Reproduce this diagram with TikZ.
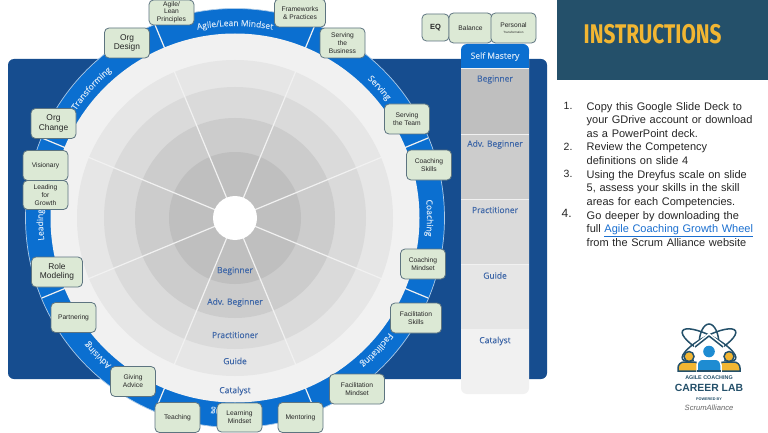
\documentclass[tikz,border=0pt]{standalone}
\usepackage{fontspec}
\setmainfont{Liberation Sans}
\newfontfamily\opensans[FakeBold=0.35]{Open Sans}
\newfontfamily\fira{Fira Sans}
\usetikzlibrary{decorations.text,calc}
\definecolor{navy}{HTML}{164D8F}
\definecolor{wheelblue}{HTML}{0B6FD0}
\definecolor{ringa}{HTML}{F1F1F1}
\definecolor{ringb}{HTML}{E6E6E6}
\definecolor{ringc}{HTML}{DADADA}
\definecolor{ringd}{HTML}{CCCCCC}
\definecolor{ringe}{HTML}{BFBFBF}
\definecolor{leaf}{HTML}{DCE9D5}
\definecolor{leafedge}{HTML}{5D7480}
\definecolor{lvl}{HTML}{4068A8}
\definecolor{arcink}{HTML}{CFE3F7}
\definecolor{teal}{HTML}{24506A}
\definecolor{gold}{HTML}{F2B632}
\definecolor{linkblue}{HTML}{1A6FD0}
\definecolor{logoblue}{HTML}{1E8CD2}
\tikzset{
  x=1pt,y=1pt,
  card/.style={draw=leafedge,line width=0.8pt,fill=leaf,rounded corners=4.5pt,minimum width=45pt,minimum height=30pt,align=center,inner sep=0pt,text=black!85,font=\fontsize{6.7}{8}\selectfont},
  cardbig/.style={card,font=\fontsize{8.4}{9.6}\selectfont},
  level/.style={text=lvl,font=\opensans\fontsize{8.5}{10}\selectfont},
  spoke/.style={draw=ringa,line width=1.2pt},
  stepitem/.style={anchor=north west,align=left,inner sep=0pt,text=black!85,font=\fontsize{11}{13.55}\selectfont,text width=178pt},
  stepnum/.style={anchor=north west,inner sep=0pt,text=black!85,font=\fontsize{10.5}{13.55}\selectfont},
  arctext/.style={postaction={decorate,decoration={text along path,text align=center,text={|\opensans\fontsize{8.5}{10}\selectfont\color{arcink}|#1}}}},
  logoline/.style={teal,line width=1.5pt}
}
\begin{document}
\begin{tikzpicture}
\useasboundingbox (0,0) rectangle (768,-433);
\fill[white] (0,0) rectangle (768,-433);
% navy panel
\fill[navy,rounded corners=6pt] (8,-59) rectangle (547,-379);
% wheel
\coordinate (c) at (235,-218);
\fill[wheelblue] (c) circle (209.5);
\draw[ringa!70!wheelblue,line width=0.7pt] (c) circle (209.5);
\fill[ringa] (c) circle (184.5);
\fill[ringb] (c) circle (158);
\fill[ringc] (c) circle (131);
\fill[ringd] (c) circle (100);
\fill[ringe] (c) circle (66);
% spokes
\foreach \a in {22.5,67.5,...,337.5}{
  \draw[spoke] ($(c)+(\a:21)$) -- ($(c)+(\a:209)$);
}
\fill[white] (c) circle (22);
% curved labels
\path[arctext={Agile/Lean Mindset}] ($(c)+(115:192)$) arc[start angle=115,end angle=65,radius=192];
\path[arctext={Serving}] ($(c)+(62:192)$) arc[start angle=62,end angle=22,radius=192];
\path[arctext={Coaching}] ($(c)+(20:192)$) arc[start angle=20,end angle=-20,radius=192];
\path[arctext={Facilitating}] ($(c)+(-23:192)$) arc[start angle=-23,end angle=-63,radius=192];
\path[arctext={Mentoring}] ($(c)+(-71:192)$) arc[start angle=-71,end angle=-111,radius=192];
\path[arctext={Advising}] ($(c)+(-115:192)$) arc[start angle=-115,end angle=-155,radius=192];
\path[arctext={Leading}] ($(c)+(202:192)$) arc[start angle=202,end angle=162,radius=192];
\path[arctext={Transforming}] ($(c)+(158:192)$) arc[start angle=158,end angle=118,radius=192];
% level labels
\node[level] (l1) at (235,-271) {Beginner};
\node[level] (l2) at (235,-302.5) {Adv. Beginner};
\node[level] (l3) at (235,-335) {Practitioner};
\node[level] (l4) at (235,-361) {Guide};
\node[level] (l5) at (235,-391) {Catalyst};
% self mastery column
\fill[ringa,rounded corners=6pt] (461,-50) rectangle (529,-394);
\fill[ringb] (461,-265) rectangle (529,-329);
\fill[ringc] (461,-199.5) rectangle (529,-264);
\fill[ringd] (461,-135) rectangle (529,-199);
\fill[ringe] (461,-69.5) rectangle (529,-134);
\fill[wheelblue,rounded corners=6pt] (461,-44) rectangle (529,-60);
\fill[wheelblue] (461,-52) rectangle (529,-68.5);
\node[text=arcink,font=\opensans\fontsize{8.5}{10}\selectfont] (sm) at (495,-56.5) {Self Mastery};
\node[level] (s1) at (495,-79.5) {Beginner};
\node[level] (s2) at (495,-144.5) {Adv. Beginner};
\node[level] (s3) at (495,-210) {Practitioner};
\node[level] (s4) at (495,-275.5) {Guide};
\node[level] (s5) at (495,-341) {Catalyst};
% top cards
\node[card,minimum width=27pt,minimum height=27pt,font=\fontsize{7.5}{9}\selectfont\bfseries] (eq) at (435.5,-27.5) {EQ};
\node[card,minimum width=43pt,minimum height=30pt] (bal) at (470.5,-28) {Balance};
\node[card,minimum width=45pt,minimum height=30pt] (pt) at (513.5,-28) {Personal\\[-2pt]{\fontsize{3}{3.5}\selectfont Transformation}};
% wheel cards
\node[card,minimum height=25pt,font=\fontsize{6.7}{7.5}\selectfont] (alp) at (171.5,-12.5) {Agile/\\Lean\\[0.5pt]Principles};
\node[cardbig] (od) at (127,-43) {Org\\Design};
\node[cardbig] (oc) at (53.5,-123.5) {Org\\Change};
\node[card] (vis) at (45.5,-165.5) {Visionary};
\node[card,minimum height=29pt] (lg) at (45.5,-195) {Leading\\for\\Growth};
\node[cardbig,minimum width=51pt] (rm) at (57,-272) {Role\\Modeling};
\node[card] (pa) at (73.5,-317.5) {Partnering};
\node[card] (ga) at (133,-381.5) {Giving\\Advice};
\node[card] (te) at (177.5,-417.5) {Teaching};
\node[card,minimum height=29pt] (lm) at (239.5,-417.5) {Learning\\Mindset};
\node[card] (me) at (300.5,-417.5) {Mentoring};
\node[card,minimum width=55pt] (fm) at (357,-389) {Facilitation\\Mindset};
\node[card,minimum width=51pt] (fs) at (416,-318) {Facilitation\\Skills};
\node[card] (cm) at (423,-264) {Coaching\\Mindset};
\node[card] (cs) at (429,-165) {Coaching\\Skills};
\node[card] (st) at (407,-119) {Serving\\the Team};
\node[card] (sb) at (342.5,-43) {Serving\\the\\Business};
\node[card,minimum width=51pt,minimum height=28pt] (fp) at (300,-13) {Frameworks\\\& Practices};
% title panel
\fill[teal] (557,0) rectangle (768,-80);
\node[anchor=west,inner sep=0pt,text=gold] (title) at (583.5,-34.5) {\scalebox{0.77}[1]{\fira\fontsize{27}{30}\selectfont\bfseries INSTRUCTIONS}};
% steps
\node[stepnum] (n1) at (563.5,-102) {1.};
\node[stepnum] (n2) at (563.5,-142.5) {2.};
\node[stepnum] (n3) at (563.5,-170) {3.};
\node[stepnum,font=\fontsize{12}{13.5}\selectfont] (n4) at (561.5,-209.5) {4.};
\node[stepitem] (t1) at (586.5,-102) {Copy this Google Slide Deck to\\your GDrive account or download\\as a PowerPoint deck.};
\node[stepitem] (t2) at (586.5,-142.5) {Review the Competency\\definitions on slide 4};
\node[stepitem] (t3) at (586.5,-170) {Using the Dreyfus scale on slide\\5, assess your skills in the skill\\areas for each Competencies.};
\node[stepitem] (t4) at (586.5,-211) {Go deeper by downloading the\\full {\color{linkblue}\underline{Agile Coaching Growth Wheel}}\\from the Scrum Alliance website};
% logo
\begin{scope}[shift={(709,-345)}]
  \draw[logoline] (0,0) ellipse (10 and 21);
  \draw[logoline,rotate=62] (0,0) ellipse (9 and 30);
  \draw[logoline,rotate=-62] (0,0) ellipse (9 and 30);
  \fill[white] (-15,0) -- (0,12) -- (15,0) -- (15,-27) -- (-15,-27) -- cycle;
  \draw[logoline,line join=round] (-14,-2) -- (0,9) -- (14,-2);
\end{scope}
\foreach \px in {689,729}{
  \draw[logoline,fill=gold] (\px,-356.5) circle (5);
  \draw[logoline,fill=gold] (\px-11,-371) -- (\px-11,-368) arc[start angle=180,end angle=90,radius=6] -- ++(10,0) arc[start angle=90,end angle=0,radius=6] -- (\px+11,-371) -- cycle;
}
\fill[logoblue] (709,-351.5) circle (5.8);
\draw[white,line width=1.5pt,fill=logoblue] (697,-371) -- (697,-365) arc[start angle=180,end angle=90,radius=6] -- ++(12,0) arc[start angle=90,end angle=0,radius=6] -- (721,-371) -- cycle;
\draw[logoline] (697,-371) -- (721,-371);
\node[text=teal,font=\fontsize{5.4}{6}\selectfont\bfseries,inner sep=0pt] (lg1) at (709,-378) {AGILE COACHING};
\node[text=teal,font=\fontsize{10.4}{11}\selectfont\bfseries,inner sep=0pt] (lg2) at (709,-387.5) {CAREER LAB};
\node[text=teal,font=\fontsize{3.8}{4}\selectfont\bfseries,inner sep=0pt] (lg3) at (709,-399) {POWERED BY};
\node[text=black!60,font=\fontsize{7.6}{8}\selectfont\itshape,inner sep=0pt] (lg4) at (709,-408) {ScrumAlliance};
\end{tikzpicture}
\end{document}
